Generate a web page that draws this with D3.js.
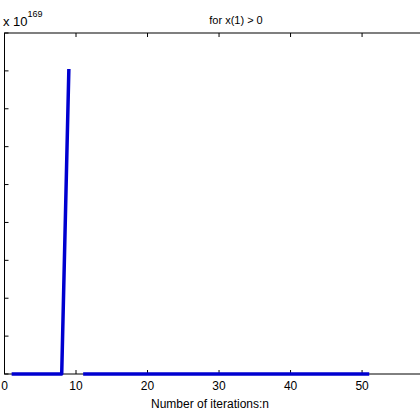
<!DOCTYPE html>
<html><head><meta charset="utf-8">
<script src="https://cdn.jsdelivr.net/npm/d3@7"></script>
<style>body{margin:0;background:#fff}svg{display:block;font-family:"Liberation Sans",Arial,sans-serif}</style>
</head><body>
<script>
// iterations and values (x 1e169); null = overflow gap
var iterations = d3.range(1, 52);
var values = iterations.map(function(n) {
  if (n <= 8) return 0;
  if (n === 9) return 8.05;
  if (n === 10) return null;
  return 0;
});
var xTicks = [0, 10, 20, 30, 40, 50];
var yTicks = d3.range(0, 10);

var W = 420, H = 420;
var svg = d3.select("body").append("svg").attr("width", W).attr("height", H);

var x = d3.scaleLinear().domain([0, 58.1]).range([4.5, 420]);
var y = d3.scaleLinear().domain([0, 9]).range([374, 33]);

// box
svg.append("rect").attr("x", x(0)).attr("y", y(9))
  .attr("width", 430 - x(0)).attr("height", y(0) - y(9))
  .attr("fill", "none").attr("stroke", "#000").attr("stroke-width", 1);

var g = svg.append("g");
g.selectAll(".xt").data(xTicks).enter().append("path")
  .attr("d", function(d) { return "M" + x(d) + "," + y(0) + "v-4M" + x(d) + "," + y(9) + "v4"; })
  .attr("stroke", "#000");
g.selectAll(".yt").data(yTicks).enter().append("path")
  .attr("d", function(d) { return "M" + x(0) + "," + y(d) + "h4"; })
  .attr("stroke", "#000");
g.selectAll(".xl").data(xTicks).enter().append("text")
  .attr("x", function(d) { return x(d); }).attr("y", 390)
  .attr("text-anchor", "middle").attr("font-size", 12).text(function(d) { return d; });

var line = d3.line()
  .defined(function(d) { return d[1] !== null; })
  .x(function(d) { return x(d[0]); })
  .y(function(d) { return y(d[1]); });
svg.append("path").datum(d3.zip(iterations, values))
  .attr("d", line).attr("fill", "none").attr("stroke", "#0000d0")
  .attr("stroke-width", 3.5).attr("stroke-linejoin", "round");

svg.append("text").attr("x", 210).attr("y", 408).attr("text-anchor", "middle")
  .attr("font-size", 12).text("Number of iterations:n");
svg.append("text").attr("x", 236).attr("y", 24).attr("text-anchor", "middle")
  .attr("font-size", 11).text("for x(1) > 0");
var t = svg.append("text").attr("x", 3).attr("y", 26).attr("font-size", 13);
t.append("tspan").text("x 10");
t.append("tspan").attr("dy", -9).attr("font-size", 9).text("169");
</script>
</body></html>
